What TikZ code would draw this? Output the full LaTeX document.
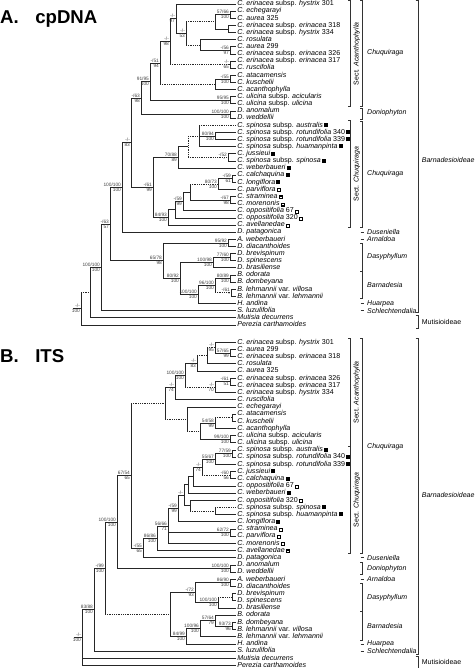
\documentclass[tikz,border=0pt]{standalone}
\usepackage{fontspec}
\setmainfont{Liberation Sans}
\usetikzlibrary{calc}
\newcommand\sqf{\,\rule{4pt}{4pt}}
\newcommand\sqo{\,{\setlength{\fboxsep}{0pt}\setlength{\fboxrule}{1.15pt}\fbox{\rule{0pt}{1.7pt}\rule{1.7pt}{0pt}}}}

\begin{document}
\begin{tikzpicture}[
    x=1pt, y=-1pt,
    br/.style={draw=black!85, line width=0.7pt},
    L/.style={br},
    D/.style={br, dash pattern=on 0.7pt off 1.1pt},
    leaf/.style={anchor=west, inner xsep=1.2pt, inner ysep=0pt, text height=5pt, text depth=1.4pt, font=\fontsize{7.1}{7.5}\selectfont},
    sup/.style={inner sep=0.3pt, font=\fontsize{4.8}{5}\selectfont, text=black!75},
    grp/.style={anchor=west, inner sep=0pt, font=\fontsize{7}{7.5}\selectfont\itshape},
    sect/.style={inner sep=0pt, rotate=90, font=\fontsize{7}{7.5}\selectfont},
    brk/.style={draw=black!80, line width=0.6pt},
    ttl/.style={anchor=base west, inner sep=0pt, font=\fontsize{18.6}{20}\selectfont\bfseries}
  ]
  \useasboundingbox (0,0) rectangle (474,668);

  % Titles
  \node[ttl] (ttlA) at (0,23.3) {A.\hspace{16.5pt}cpDNA};
  \node[ttl] (ttlB) at (0,362.5) {B.\hspace{16.5pt}ITS};

  % ---------------- A. cpDNA: taxa
  \foreach \i/\t in {
    1/{\textit{C. erinacea} subsp. \textit{hystrix} 301},
    2/{\textit{C. echegarayi}},
    3/{\textit{C. aurea} 325},
    4/{\textit{C. erinacea} subsp. \textit{erinacea} 318},
    5/{\textit{C. erinacea} subsp. \textit{hystrix} 334},
    6/{\textit{C. rosulata}},
    7/{\textit{C. aurea} 299},
    8/{\textit{C. erinacea} subsp. \textit{erinacea} 326},
    9/{\textit{C. erinacea} subsp. \textit{erinacea} 317},
    10/{\textit{C. ruscifolia}},
    11/{\textit{C. atacamensis}},
    12/{\textit{C. kuschelii}},
    13/{\textit{C. acanthophylla}},
    14/{\textit{C. ulicina} subsp. \textit{acicularis}},
    15/{\textit{C. ulicina} subsp. \textit{ulicina}},
    16/{\textit{D. anomalum}},
    17/{\textit{D. weddellii}},
    18/{\textit{C. spinosa} subsp. \textit{australis}\sqf},
    19/{\textit{C. spinosa} subsp. \textit{rotundifolia} 340\sqf},
    20/{\textit{C. spinosa} subsp. \textit{rotundifolia} 339\sqf},
    21/{\textit{C. spinosa} subsp. \textit{huamanpinta}\sqf},
    22/{\textit{C. jussieui}\sqf},
    23/{\textit{C. spinosa} subsp. \textit{spinosa}\sqf},
    24/{\textit{C. weberbaueri}\sqf},
    25/{\textit{C. calchaquina}\sqf},
    26/{\textit{C. longiflora}\sqf},
    27/{\textit{C. parviflora}\sqo},
    28/{\textit{C. straminea}\sqo},
    29/{\textit{C. morenonis}\sqo},
    30/{\textit{C. oppositifolia} 67\sqo},
    31/{\textit{C. oppositifolia} 320\sqo},
    32/{\textit{C. avellanedae}\sqo},
    33/{\textit{D. patagonica}},
    34/{\textit{A. weberbaueri}},
    35/{\textit{D. diacanthoides}},
    36/{\textit{D. brevispinum}},
    37/{\textit{D. spinescens}},
    38/{\textit{D. brasiliense}},
    39/{\textit{B. odorata}},
    40/{\textit{B. dombeyana}},
    41/{\textit{B. lehmannii} var. \textit{villosa}},
    42/{\textit{B. lehmannii} var. \textit{lehmannii}},
    43/{\textit{H. andina}},
    44/{\textit{S. luzulifolia}},
    45/{\textit{Mutisia decurrens}},
    46/{\textit{Perezia carthamoides}}}
    \node[leaf] (A\i) at (236,{4+7.13*(\i-1)}) {\t};

  % ---------------- B. ITS: taxa
  \foreach \i/\t in {
    1/{\textit{C. erinacea} subsp. \textit{hystrix} 301},
    2/{\textit{C. aurea} 299},
    3/{\textit{C. erinacea} subsp. \textit{erinacea} 318},
    4/{\textit{C. rosulata}},
    5/{\textit{C. aurea} 325},
    6/{\textit{C. erinacea} subsp. \textit{erinacea} 326},
    7/{\textit{C. erinacea} subsp. \textit{erinacea} 317},
    8/{\textit{C. erinacea} subsp. \textit{hystrix} 334},
    9/{\textit{C. ruscifolia}},
    10/{\textit{C. echegarayi}},
    11/{\textit{C. atacamensis}},
    12/{\textit{C. kuschelii}},
    13/{\textit{C. acanthophylla}},
    14/{\textit{C. ulicina} subsp. \textit{acicularis}},
    15/{\textit{C. ulicina} subsp. \textit{ulicina}},
    16/{\textit{C. spinosa} subsp. \textit{australis}\sqf},
    17/{\textit{C. spinosa} subsp. \textit{rotundifolia} 340\sqf},
    18/{\textit{C. spinosa} subsp. \textit{rotundifolia} 339\sqf},
    19/{\textit{C. jussieui}\sqf},
    20/{\textit{C. calchaquina}\sqf},
    21/{\textit{C. oppositifolia} 67\sqo},
    22/{\textit{C. weberbaueri}\sqf},
    23/{\textit{C. oppositifolia} 320\sqo},
    24/{\textit{C. spinosa} subsp. \textit{spinosa}\sqf},
    25/{\textit{C. spinosa} subsp. \textit{huamanpinta}\sqf},
    26/{\textit{C. longiflora}\sqf},
    27/{\textit{C. straminea}\sqo},
    28/{\textit{C. parviflora}\sqo},
    29/{\textit{C. morenonis}\sqo},
    30/{\textit{C. avellanedae}\sqo},
    31/{\textit{D. patagonica}},
    32/{\textit{D. anomalum}},
    33/{\textit{D. weddellii}},
    34/{\textit{A. weberbaueri}},
    35/{\textit{D. diacanthoides}},
    36/{\textit{D. brevispinum}},
    37/{\textit{D. spinescens}},
    38/{\textit{D. brasiliense}},
    39/{\textit{B. odorata}},
    40/{\textit{B. dombeyana}},
    41/{\textit{B. lehmannii} var. \textit{villosa}},
    42/{\textit{B. lehmannii} var. \textit{lehmannii}},
    43/{\textit{H. andina}},
    44/{\textit{S. luzulifolia}},
    45/{\textit{Mutisia decurrens}},
    46/{\textit{Perezia carthamoides}}}
    \node[leaf] (B\i) at (236,{342.3+7.18*(\i-1)}) {\t};

  % ---------------- clades: name/x/first child/last child/styles
  \foreach \n/\x/\a/\b/\sa/\sb/\sv in {
    ap1/230/A2/A3/L/L/L, ap2/228/A4/A5/L/L/L, an3/215/ap1/ap2/L/L/L,
    ap4/230/A7/A8/L/L/L, an5/200/A6/ap4/L/L/L, an2/186/an3/an5/D/D/L,
    an1/176/A1/an2/L/L/L, ap6/230/A9/A10/L/L/L, an7/170/an1/ap6/L/D/L,
    ap8/230/A11/A12/L/L/L, an9/215/ap8/A13/L/L/L, an10/160/an7/an9/L/D/L,
    ap11/230/A14/A15/L/L/L, an12/150/an10/ap11/L/L/L,
    ap13/230/A16/A17/L/L/L, an14/141/an12/ap13/L/L/L,
    ac1/215/A19/A20/L/L/L, ac2/199/A18/A21/D/L/L, ac4/228/A22/A23/L/L/L,
    ac5/188/ac2/ac4/D/D/D, ac6/178/ac5/A24/L/L/L,
    ac7/232/A25/A26/L/L/L, ac8/218/ac7/A27/L/L/L, ac9/230/A28/A29/L/L/L,
    ac10/190/ac8/ac9/D/L/L, ac11/183/ac10/A30/L/L/L, ac12/175/ac11/A31/L/L/L,
    ac13/168/ac12/A32/L/L/L, ac14/153/ac6/ac13/L/L/L,
    an15/131/an14/ac14/L/L/L, an16/122/an15/A33/L/L/L,
    ad1/228/A34/A35/L/L/L, ad2/230/A36/A37/L/L/L, ad3/213/ad2/A38/L/L/L,
    ad4/230/A39/A40/L/L/L, ad5/231/A41/A42/L/L/L, ad6/215/ad4/ad5/L/D/L,
    ad7/198/ad6/A43/L/L/L, ad8/180/ad3/ad7/L/L/L, ad9/163/ad1/ad8/L/L/L,
    an17/110/an16/ad9/L/L/L, an18/101/an17/A44/L/L/L,
    an19/90/an18/A45/L/L/L, aroot/81/an19/A46/D/L/L,
    bp1/230/B2/B3/L/L/L, bn1/215/B1/bp1/L/L/L, bn2/207/bn1/B4/D/L/L,
    bn3/197/bn2/B5/D/L/L, bp2/230/B6/B7/L/L/L, bn5/215/bp2/B8/L/L/L,
    bn4/185/bn3/bn5/L/D/L, bn6/175/bn4/B9/L/L/L,
    bp3/232/B11/B12/L/L/L, bn8/215/bp3/B13/D/L/L, bp4/230/B14/B15/L/L/L,
    bn9/200/bn8/bp4/L/L/L, bn10/187/B10/bn9/L/D/L, bn11/165/bn6/bn10/L/D/L,
    bq1/232/B16/B17/L/L/L, bq2/215/bq1/B18/L/L/L, bq3/230/B19/B20/L/L/L,
    bq4/202/bq2/bq3/L/D/L, bq5/193/bq4/B21/L/L/L, bq6/188/bq5/B22/L/L/L,
    bq7/215/B24/B25/D/L/L, bq8/190/B23/bq7/L/D/L, bq9/184/bq6/bq8/L/L/L,
    bq10/178/bq9/B26/L/L/L, bq11/230/B27/B28/L/L/L, bq12/168/bq10/B29/L/L/L,
    bq13/157/bq12/B30/L/L/L, bn14/143/bq13/B31/L/L/L,
    bn12/131/bn11/bn14/D/L/L, bp5/230/B32/B33/L/L/L, bn13/117/bn12/bp5/L/L/L,
    bd1/230/B34/B35/L/L/L, bd2/232/B36/B37/L/L/L, bd3/218/bd2/B38/D/L/L,
    bd4/195/bd1/bd3/L/L/L, bd5/232/B40/B41/L/L/L, bd6/215/B39/bd5/L/L/L,
    bd7/200/bd6/B42/L/L/L, bd8/186/bd7/B43/L/L/L, bd9/170/bd4/bd8/L/L/L,
    bn15/105/bn13/bd9/L/D/L, bn16/94/bn15/B44/L/L/L, broot/82/bn16/B46/L/L/L}
  {
    \coordinate (m) at ($(\a)!.5!(\b)$);
    \coordinate (\n) at (\x,0 |- m);
    \draw[\sv] (\n |- \a) -- (\n |- \b);
    \draw[\sa] (\n |- \a) -- (\a);
    \draw[\sb] (\n |- \b) -- (\b);
  }
  % middle branches of polytomies and root stems
  \draw[L] (ac2 |- ac1) -- (ac1);
  \draw[L] (bq12 |- bq11) -- (bq11);
  \draw[L] (broot |- B45) -- (B45);
  \coordinate (aR0) at (73,0 |- aroot);
  \coordinate (bR0) at (74,0 |- broot);
  \draw[L] (aR0) -- (aroot);
  \draw[L] (bR0) -- (broot);

  % support values
  \foreach \n/\u/\l in {
    ap1/{57/66}/100, an2/{-/-}/53, ap4/{-/56}/97, an1/{-/-}/97, ap6/{-/-}/65,
    an7/{-/-}/98, ap8/{-/55}/100, an10/{-/51}/94, ap11/{95/95}/100,
    an12/{91/95}/100, ap13/{100/100}/100, an14/{-/63}/98, ac1/{80/94}/100,
    ac6/{70/88}/89, ac7/{-/59}/61, ac8/{80/73}/100,
    ac9/{-/67}/98, ac11/{-/59}/99, ac13/{84/93}/100, ac14/{-/61}/99,
    an15/{-/-}/83, an16/{100/100}/100, ad1/{95/92}/100, ad2/{77/60}/100,
    ad3/{100/98}/100, ad4/{80/89}/100, ad5/{-/61}/-, ad6/{96/100}/100,
    ad7/{100/100}/100, ad8/{80/92}/100, ad9/{65/78}/98, an17/{-/63}/57,
    an18/{100/100}/100, aroot/{-/-}/100,
    bp1/{57/65}/99, bn1/{-/-}/95, bn3/{-/-}/83, bp2/{-/61}/51, bn5/{-/-}/70,
    bn4/{100/100}/100, bn6/{-/-}/74, bn8/{54/58}/99, bp4/{99/100}/100,
    bq1/{77/59}/100, bq2/{55/67}/100, bq3/{-/60}/56, bq4/{-/-}/74,
    bq9/{-/-}/{}, bq10/{-/59}/99, bq11/{62/72}/100, bq12/{56/66}/71,
    bq13/{86/86}/100, bn14/{-/55}/65, bn12/{67/54}/65, bp5/{100/100}/100,
    bn13/{100/100}/100, bd1/{86/90}/100, bd3/{100/100}/100, bd4/{-/72}/93,
    bd5/{93/73}/96, bd6/{57/64}/79, bd7/{100/96}/100, bd8/{84/99}/100,
    bn15/{-/99}/100, bn16/{83/88}/100, broot/{-/-}/100}
  {
    \node[sup, anchor=south east, xshift=-0.6pt, yshift=0.3pt] (\n-u) at (\n) {\u};
    \node[sup, anchor=north east, xshift=-0.6pt, yshift=-0.3pt] (\n-l) at (\n) {\l};
  }
  \node[sup, anchor=south east, xshift=-0.6pt, yshift=0.6pt] (ac4-u) at (ac4) {-/52};
  \node[sup, anchor=north east, xshift=-2.5pt, yshift=-1pt] (ac4-l) at (ac4) {-};

  % ---------------- brackets, A
  \draw[brk] (348,0.8) -- (350.7,0.8) -- (350.7,106.5) -- (348,106.5);
  \draw[brk] (348,120.5) -- (350.7,120.5) -- (350.7,227.5) -- (348,227.5);
  \node[sect] (sAa) at (356.8,53.8) {Sect. \textit{Acanthophylla}};
  \node[sect] (sAc) at (356.8,174) {Sect. \textit{Chuquiraga}};
  \draw[brk] (360,0.8) -- (362.5,0.8) -- (362.5,106.5) -- (360,106.5);
  \draw[brk] (360,108.5) -- (362.5,108.5) -- (362.5,119.5) -- (360,119.5);
  \draw[brk] (360,121.5) -- (362.5,121.5) -- (362.5,227.5) -- (360,227.5);
  \draw[brk] (360.5,232.2) -- (363.5,232.2);
  \draw[brk] (360.5,239.3) -- (363.5,239.3);
  \draw[brk] (360,243) -- (362.5,243) -- (362.5,298.5) -- (360,298.5);
  \draw[brk] (360,270.8) -- (362.5,270.8);
  \draw[brk] (360.5,303.5) -- (363.5,303.5);
  \draw[brk] (360.5,310.6) -- (363.5,310.6);
  \node[grp] (gA1) at (367,53) {Chuquiraga};
  \node[grp] (gA2) at (367,113) {Doniophyton};
  \node[grp] (gA3) at (367,173.5) {Chuquiraga};
  \node[grp] (gA4) at (367,232.2) {Duseniella};
  \node[grp] (gA5) at (367,239.3) {Arnaldoa};
  \node[grp] (gA6) at (367,257) {Dasyphyllum};
  \node[grp] (gA7) at (367,285) {Barnadesia};
  \node[grp] (gA8) at (367,303.5) {Huarpea};
  \node[grp] (gA9) at (367,310.6) {Schlechtendalia};
  \draw[brk] (415.5,0.8) -- (418.3,0.8) -- (418.3,312.5) -- (415.5,312.5);
  \draw[brk] (415.5,315.5) -- (418.3,315.5) -- (418.3,328) -- (415.5,328);
  \node[grp] (fA1) at (421.7,160) {Barnadesioideae};
  \node[grp, font=\fontsize{7}{7.5}\selectfont] (fA2) at (421.7,321.7) {Mutisioideae};

  % ---------------- brackets, B
  \draw[brk] (348,338.5) -- (350.7,338.5) -- (350.7,553.5) -- (348,553.5);
  \draw[brk] (348,446.4) -- (350.7,446.4);
  \node[sect] (sBa) at (356.8,392.4) {Sect. \textit{Acanthophylla}};
  \node[sect] (sBc) at (356.8,500) {Sect. \textit{Chuquiraga}};
  \draw[brk] (360,338.5) -- (362.5,338.5) -- (362.5,553.5) -- (360,553.5);
  \draw[brk] (360.5,557.7) -- (363.5,557.7);
  \draw[brk] (360,562) -- (362.5,562) -- (362.5,574.5) -- (360,574.5);
  \draw[brk] (360.5,579.3) -- (363.5,579.3);
  \draw[brk] (360,583) -- (362.5,583) -- (362.5,640.3) -- (360,640.3);
  \draw[brk] (360,611.6) -- (362.5,611.6);
  \draw[brk] (360.5,643.9) -- (363.5,643.9);
  \draw[brk] (360.5,651) -- (363.5,651);
  \node[grp] (gB1) at (367,446.4) {Chuquiraga};
  \node[grp] (gB2) at (367,557.7) {Duseniella};
  \node[grp] (gB3) at (367,568.3) {Doniophyton};
  \node[grp] (gB4) at (367,579.3) {Arnaldoa};
  \node[grp] (gB5) at (367,597.3) {Dasyphyllum};
  \node[grp] (gB6) at (367,625.9) {Barnadesia};
  \node[grp] (gB7) at (367,643.9) {Huarpea};
  \node[grp] (gB8) at (367,651) {Schlechtendalia};
  \draw[brk] (415.5,338.5) -- (418.3,338.5) -- (418.3,654) -- (415.5,654);
  \draw[brk] (415.5,656.5) -- (418.3,656.5) -- (418.3,669);
  \node[grp] (fB1) at (421.7,495) {Barnadesioideae};
  \node[grp, font=\fontsize{7}{7.5}\selectfont] (fB2) at (421.7,662) {Mutisioideae};
\end{tikzpicture}
\end{document}
